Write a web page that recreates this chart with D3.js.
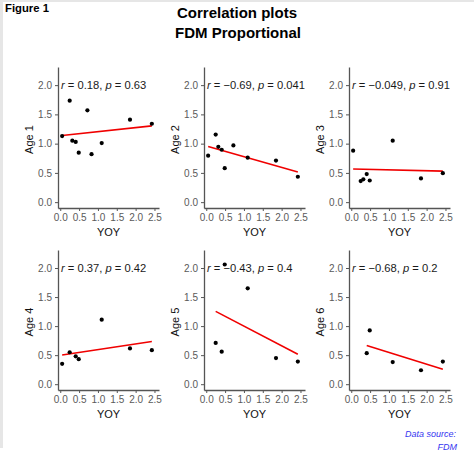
<!DOCTYPE html>
<html>

<head>
    <meta charset="UTF-8">
    <style>
        body { margin: 0; background: white; }
        svg { display: block; font-family: Arial, "Liberation Sans", sans-serif; }
    </style>
</head>

<body>
    <svg></svg>
    <script src="https://d3js.org/d3.v7.min.js"></script>

    <script>

        // panel data
        let ageLabels = ["Age 1", "Age 2", "Age 3", "Age 4", "Age 5", "Age 6"];
        let rValues = ["0.18", "\u22120.69", "\u22120.049", "0.37", "\u22120.43", "\u22120.68"];
        let pValues = ["0.63", "0.041", "0.91", "0.42", "0.4", "0.2"];

        let yoy1 = [0.05, 0.25, 0.32, 0.41, 0.49, 0.72, 0.83, 1.10, 1.85, 2.43];
        let age1 = [1.13, 1.735, 1.05, 1.03, 0.845, 1.57, 0.82, 1.01, 1.41, 1.34];
        let yoy2 = [0.05, 0.25, 0.32, 0.41, 0.49, 0.72, 1.10, 1.85, 2.43];
        let age2 = [0.795, 1.155, 0.946, 0.896, 0.58, 0.97, 0.76, 0.71, 0.434];
        let yoy3 = [0.05, 0.25, 0.32, 0.41, 0.49, 1.10, 1.85, 2.43];
        let age3 = [0.88, 0.36, 0.39, 0.48, 0.37, 1.05, 0.405, 0.496];
        let yoy4 = [0.05, 0.25, 0.41, 0.49, 1.10, 1.85, 2.43];
        let age4 = [0.35, 0.55, 0.48, 0.43, 1.11, 0.615, 0.586];
        let yoy5 = [0.25, 0.41, 0.49, 1.10, 1.85, 2.43];
        let age5 = [0.71, 0.56, 2.06, 1.65, 0.45, 0.39];
        let yoy6 = [0.41, 0.49, 1.10, 1.85, 2.43];
        let age6 = [0.534, 0.925, 0.38, 0.24, 0.39];

        let xTicks = [0, 0.5, 1, 1.5, 2, 2.5];
        let yTicks = [0, 0.5, 1, 1.5, 2];

        let yoyList = [yoy1, yoy2, yoy3, yoy4, yoy5, yoy6];
        let ageList = [age1, age2, age3, age4, age5, age6];

        let width = 474, height = 451;

        let svg = d3.select("svg")
            .attr("width", width)
            .attr("height", height)
            .attr("viewBox", "0 0 " + width + " " + height)

        svg.append("rect").attr("width", width).attr("height", height).attr("fill", "white")
        // light frame on top / left edge of the screenshot
        svg.append("rect").attr("width", width).attr("height", 2).attr("fill", "#e6e6e6")
        svg.append("rect").attr("width", 3).attr("height", 448).attr("fill", "#e6e6e6")

        svg.append("text")
            .attr("x", 5).attr("y", 12)
            .style("font-size", "11.3px").style("font-weight", "bold")
            .text("Figure 1")

        svg.append("text")
            .attr("x", 237).attr("y", 17.5)
            .attr("text-anchor", "middle")
            .style("font-size", "15px").style("font-weight", "bold")
            .text("Correlation plots")

        svg.append("text")
            .attr("x", 238).attr("y", 38)
            .attr("text-anchor", "middle")
            .style("font-size", "15px").style("font-weight", "bold")
            .text("FDM Proportional")

        let colX = [58, 204, 349], panelW = 101;
        let rowY = [[67, 208], [250, 390]];

        // simple least squares fit, like geom_smooth(method = "lm")
        function lmFit(xs, ys) {
            let mx = d3.mean(xs), my = d3.mean(ys);
            let sxy = d3.sum(xs, (x, i) => (x - mx) * (ys[i] - my));
            let sxx = d3.sum(xs, x => (x - mx) * (x - mx));
            let b = sxy / sxx;
            return x => my + b * (x - mx);
        }

        ageLabels.forEach((lab, k) => {
            let col = k % 3, row = Math.floor(k / 3);
            let x0 = colX[col];
            let [yBottom, yTop] = [rowY[row][1], rowY[row][0]];

            let x = d3.scaleLinear().domain([-0.06, 2.62]).range([x0, x0 + panelW]);
            let y = d3.scaleLinear().domain([-0.1, 2.31]).range([yBottom, yTop]);

            let g = svg.append("g");

            let xAxis = g.append("g")
                .attr("transform", "translate(0," + yBottom + ")")
                .call(d3.axisBottom(x).tickValues(xTicks).tickFormat(d3.format(".1f"))
                    .tickSizeInner(3).tickSizeOuter(0).tickPadding(3));
            let yAxis = g.append("g")
                .attr("transform", "translate(" + x0 + ",0)")
                .call(d3.axisLeft(y).tickValues(yTicks).tickFormat(d3.format(".1f"))
                    .tickSizeInner(3).tickSizeOuter(0).tickPadding(3));

            [xAxis, yAxis].forEach(a => {
                a.select(".domain").attr("stroke", "#555").attr("stroke-width", 1.3);
                a.selectAll(".tick line").attr("stroke", "#555");
                a.selectAll(".tick text")
                    .attr("fill", "#5a5a5a")
                    .style("font-size", "10px")
                    .style("font-family", "Arial, 'Liberation Sans', sans-serif");
            });

            g.append("text")
                .attr("x", x0 + panelW / 2)
                .attr("y", yBottom + 28)
                .attr("text-anchor", "middle")
                .style("font-size", "11px")
                .attr("fill", "#111")
                .text("YOY");

            g.append("text")
                .attr("transform", "translate(" + (x0 - 25) + "," + ((yTop + yBottom) / 2 + 2) + ") rotate(-90)")
                .attr("text-anchor", "middle")
                .style("font-size", "11px")
                .attr("fill", "#111")
                .text(lab);

            let xs = yoyList[k], ys = ageList[k];
            let pts = xs.map((v, i) => ({ x: v, y: ys[i] }));

            let fit = lmFit(xs, ys);
            let ext = d3.extent(xs);
            g.append("path")
                .datum(ext.map(v => ({ x: v, y: fit(v) })))
                .attr("fill", "none")
                .attr("stroke", "#f00000")
                .attr("stroke-width", 1.6)
                .attr("d", d3.line().x(d => x(d.x)).y(d => y(d.y)));

            g.selectAll("circle")
                .data(pts)
                .enter()
                .append("circle")
                .attr("cx", d => x(d.x))
                .attr("cy", d => y(d.y))
                .attr("r", 2.1)
                .attr("fill", "black");

            let ann = g.append("text")
                .attr("x", x0 + 3)
                .attr("y", y(2) + 4)
                .style("font-size", "11.2px")
                .attr("fill", "#1a1a1a");
            ann.append("tspan").style("font-style", "italic").text("r");
            ann.append("tspan").text(" = " + rValues[k] + ", ");
            ann.append("tspan").style("font-style", "italic").text("p");
            ann.append("tspan").text(" = " + pValues[k]);
        });

        svg.append("text")
            .attr("x", 456).attr("y", 437)
            .attr("text-anchor", "end")
            .style("font-size", "9px").style("font-style", "italic")
            .attr("fill", "#3535f0")
            .text("Data source:");

        svg.append("text")
            .attr("x", 457).attr("y", 450)
            .attr("text-anchor", "end")
            .style("font-size", "9px").style("font-style", "italic")
            .attr("fill", "#3535f0")
            .text("FDM");

    </script>
</body>

</html>
